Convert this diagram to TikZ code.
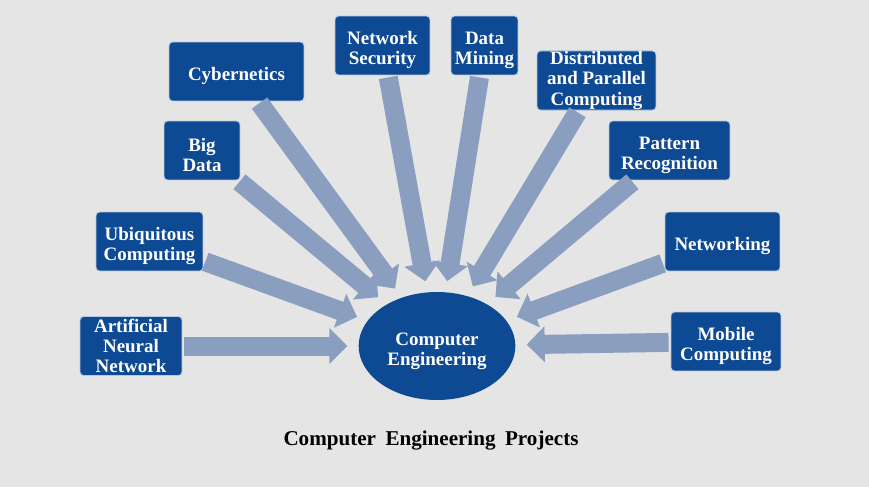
\documentclass[tikz,border=0pt]{standalone}
\usepackage{fontspec}
\setmainfont{Liberation Serif}
\usetikzlibrary{shapes.geometric}
\usetikzlibrary{arrows.meta}

\definecolor{boxblue}{HTML}{0E4A94}
\definecolor{spokeblue}{HTML}{8A9EC0}
\definecolor{pagegray}{HTML}{E5E5E5}

\begin{document}
\begin{tikzpicture}[x=0.02cm,y=-0.02cm,
    topic/.style={fill=boxblue, draw=white!70!boxblue, line width=0.5pt,
      rounded corners=0.07cm, text=white, align=center,
      font=\bfseries\fontsize{10.8}{11.4}\selectfont,
      minimum height=1.18cm, inner xsep=2pt, inner ysep=0.5pt},
    hub/.style={ellipse, fill=boxblue, text=white, align=center,
      font=\bfseries\fontsize{10.8}{11.4}\selectfont,
      minimum width=2.88cm, minimum height=2.16cm},
    spoke/.style={draw=spokeblue, line width=0.38cm,
      -{Triangle[width=0.70cm,length=0.36cm]},
      shorten >=0.22cm, shorten <=0.04cm}]

  \fill[pagegray] (0,0) rectangle (869,487);

  \node[hub] (ce) at (437,346) {\rule{0pt}{13pt}Computer\\Engineering};

  \node[topic, minimum width=2.04cm] (ann) at (131,346) {Artificial\\Neural\\Network};
  \node[topic, minimum width=2.14cm] (ubi) at (149.5,241.5) {\rule{0pt}{13pt}Ubiquitous\\Computing};
  \node[topic, minimum width=1.52cm] (big) at (202,150.5) {\rule{0pt}{13pt}Big\\Data};
  \node[topic, minimum width=2.70cm] (cyb) at (236.5,71.5) {\rule{0pt}{13pt}Cybernetics};
  \node[topic, minimum width=1.90cm] (sec) at (382.5,45.5) {\rule{0pt}{13pt}Network\\Security};
  \node[topic, minimum width=1.34cm] (dm) at (484.5,45.5) {\rule{0pt}{13pt}Data\\Mining};
  \node[topic, minimum width=2.38cm] (dpc) at (596.5,80.5) {Distributed\\and Parallel\\Computing};
  \node[topic, minimum width=2.42cm] (pr) at (669.5,150.5) {\rule{0pt}{13pt}Pattern\\Recognition};
  \node[topic, minimum width=2.30cm] (net) at (722.5,241.5) {\rule{0pt}{13pt}Networking};
  \node[topic, minimum width=2.20cm] (mob) at (726,341.5) {\rule{0pt}{13pt}Mobile\\Computing};

  \foreach \src in {ann,ubi,big,cyb,sec,dm,dpc,pr,net,mob}
    \draw[spoke] (\src) -- (ce);

  \node[font=\bfseries\fontsize{12}{14}\selectfont] (title) at (431,441)
    {Computer\hspace{0.45em}Engineering\hspace{0.45em}Projects};

\end{tikzpicture}
\end{document}
